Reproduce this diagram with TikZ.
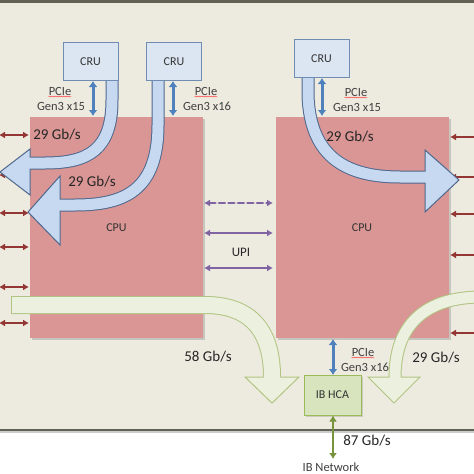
\documentclass[tikz,border=0pt]{standalone}
\usepackage{fontspec}
\setmainfont{Carlito}
\usepackage{tkz-euclide}
\usetikzlibrary{calc}
\usetikzlibrary{arrows.meta}
\usetikzlibrary{shadows}
\usetikzlibrary{decorations.pathmorphing}

\definecolor{panelbg}{RGB}{237,235,224}
\definecolor{panelline}{RGB}{98,98,84}
\definecolor{cpufill}{RGB}{217,150,148}
\definecolor{crufill}{RGB}{220,230,242}
\definecolor{cruline}{RGB}{112,140,178}
\definecolor{flowblue}{RGB}{198,217,241}
\definecolor{flowblueline}{RGB}{80,104,142}
\definecolor{pcieblue}{RGB}{79,129,189}
\definecolor{linkred}{RGB}{148,54,52}
\definecolor{upipurple}{RGB}{128,100,162}
\definecolor{flowgreen}{RGB}{235,241,222}
\definecolor{flowgreenline}{RGB}{178,196,130}
\definecolor{hcafill}{RGB}{215,228,189}
\definecolor{hcaline}{RGB}{155,187,89}
\definecolor{netgreen}{RGB}{119,147,60}

\tikzset{
    cpubox/.style={fill=cpufill, minimum width=173pt, minimum height=221pt, inner sep=0pt,
        drop shadow={shadow xshift=2pt, shadow yshift=-2pt, opacity=0.35},
        font=\fontsize{12}{14}\selectfont, text=black!80},
    crubox/.style={fill=crufill, draw=cruline, line width=1pt, minimum width=55pt, minimum height=38pt,
        font=\fontsize{12}{14}\selectfont, text=black!80},
    hcabox/.style={fill=hcafill, draw=hcaline, line width=1pt, minimum width=57pt, minimum height=40pt,
        drop shadow={shadow xshift=1.5pt, shadow yshift=-1.5pt, opacity=0.3},
        font=\fontsize{12}{14}\selectfont, text=black!80},
    ratelabel/.style={font=\fontsize{15}{18}\selectfont, text=black!85, inner sep=0pt},
    pcielabel/.style={font=\fontsize{12.5}{14}\selectfont, text=black!75, inner sep=0pt},
    squiggle/.style={red!80, line width=0.4pt, decorate, decoration={snake, amplitude=0.5pt, segment length=2pt}},
    redlink/.style={linkred, line width=2pt, >={Latex[length=6pt,width=7pt]}, <->},
    upilink/.style={upipurple, line width=2.5pt, >={Latex[length=6pt,width=7pt]}, <->},
    pcielink/.style={pcieblue, line width=3pt, >={Latex[length=6pt,width=9pt]}, <->},
    netlink/.style={netgreen, line width=2.5pt, >={Latex[length=6pt,width=8pt]}, <->},
    blueedge/.style={draw=flowblueline, line width=13pt},
    bluecore/.style={draw=flowblue, line width=11pt},
    bluehead/.style={fill=flowblue, draw=flowblueline, line width=1pt, line join=miter},
    greenedge/.style={draw=flowgreenline},
    greencore/.style={draw=flowgreen},
    greenhead/.style={fill=flowgreen, draw=flowgreenline, line width=1pt, line join=miter}
}

\begin{document}
\begin{tikzpicture}[x=1pt,y=-1pt]
                \useasboundingbox (0,0) rectangle (474,474);
                \clip (0,0) rectangle (474,474);
                \fill[white] (0,0) rectangle (474,474);
                \fill[panelbg] (0,2) rectangle (474,430);
                \fill[panelline] (0,0) rectangle (474,2.5);
                \fill[black!20] (0,430) rectangle (474,433);
                \fill[panelline] (0,428.5) rectangle (474,430.5);

                \node[cpubox] (cpuL) at (116.5,227.5) {CPU};
                \node[cpubox] (cpuR) at (362,227.5) {CPU};

                \tkzDefPoint(-1,135){La1} \tkzDefPoint(29,135){La2}
                \tkzDefPoint(-1,175){Lb1} \tkzDefPoint(29,175){Lb2}
                \tkzDefPoint(-1,213){Lc1} \tkzDefPoint(29,213){Lc2}
                \tkzDefPoint(-1,247){Ld1} \tkzDefPoint(29,247){Ld2}
                \tkzDefPoint(-1,287){Le1} \tkzDefPoint(29,287){Le2}
                \tkzDefPoint(-1,323){Lf1} \tkzDefPoint(29,323){Lf2}
                \tkzDefPoint(450,137){Ra1} \tkzDefPoint(482,137){Ra2}
                \tkzDefPoint(450,177){Rb1} \tkzDefPoint(482,177){Rb2}
                \tkzDefPoint(450,214){Rc1} \tkzDefPoint(482,214){Rc2}
                \tkzDefPoint(450,255){Rd1} \tkzDefPoint(482,255){Rd2}
                \tkzDefPoint(450,296){Re1} \tkzDefPoint(482,296){Re2}
                \tkzDefPoint(450,333){Rf1} \tkzDefPoint(482,333){Rf2}
                \tkzDrawSegments[redlink](La1,La2 Lb1,Lb2 Lc1,Lc2 Ld1,Ld2 Le1,Le2 Lf1,Lf2)
                \tkzDrawSegments[redlink](Ra1,Ra2 Rb1,Rb2 Rc1,Rc2 Rd1,Rd2 Re1,Re2 Rf1,Rf2)

                \tkzDefPoint(204,203){U1} \tkzDefPoint(273,203){U2}
                \tkzDefPoint(204,233){V1} \tkzDefPoint(273,233){V2}
                \tkzDefPoint(204,268){W1} \tkzDefPoint(273,268){W2}
                \tkzDrawSegment[upilink, dash pattern=on 6pt off 3.5pt](U1,U2)
                \tkzDrawSegment[upilink](V1,V2)
                \tkzDrawSegment[upilink](W1,W2)
                \node[font=\fontsize{13}{15}\selectfont, text=black!85] (upi) at (241,252) {UPI};

                \draw[greenedge, line width=18pt, shorten <=-1pt] (12,305) -- (205,305) .. controls (250,305) and (272,330) .. (272,377);
                \draw[greenhead] (245,377) -- (272,403) -- (299,377) -- cycle;
                \draw[greencore, line width=16pt] (12,305) -- (205,305) .. controls (250,305) and (272,330) .. (272,377) -- (272,386);

                \draw[greenedge, line width=13pt] (482,297) .. controls (425,297) and (395,325) .. (395,377);
                \draw[greenhead] (368,377) -- (394,403) -- (420,377) -- cycle;
                \draw[greencore, line width=11pt] (482,297) .. controls (425,297) and (395,325) .. (395,377) -- (395,386);

                \draw[blueedge] (112,78) -- (112,100) .. controls (112,150) and (88,163) .. (45,163) -- (30,163);
                \draw[bluehead] (30,149) -- (0,172) -- (30,195) -- cycle;
                \draw[bluecore] (112,78) -- (112,100) .. controls (112,150) and (88,163) .. (45,163) -- (22,163);

                \draw[blueedge] (158,78) -- (158,125) .. controls (158,190) and (125,205) .. (75,205) -- (60,205);
                \draw[bluehead] (60,176) -- (28,212) -- (60,245) -- cycle;
                \draw[bluecore] (158,78) -- (158,125) .. controls (158,190) and (125,205) .. (75,205) -- (52,205);

                \draw[blueedge] (308,76) -- (308,95) .. controls (310,160) and (350,177) .. (400,177) -- (425,177);
                \draw[bluehead] (425,150) -- (459,180) -- (425,212) -- cycle;
                \draw[bluecore] (308,76) -- (308,95) .. controls (310,160) and (350,177) .. (400,177) -- (433,177);

                \node[crubox] (cru1) at (90.5,61.5) {CRU};
                \node[crubox] (cru2) at (174,61.5) {CRU};
                \node[crubox] (cru3) at (321.5,58.5) {CRU};
                \node[hcabox] (hca) at (332.5,395) {IB HCA};

                \tkzDefPoint(93,81){Pa1} \tkzDefPoint(93,116){Pa2}
                \tkzDefPoint(173,81){Pb1} \tkzDefPoint(173,116){Pb2}
                \tkzDefPoint(322,78){Pc1} \tkzDefPoint(322,116){Pc2}
                \tkzDefPoint(333,339){Pd1} \tkzDefPoint(333,375){Pd2}
                \tkzDrawSegments[pcielink](Pa1,Pa2 Pb1,Pb2 Pc1,Pc2 Pd1,Pd2)
                \tkzDefPoint(333,415.5){N1} \tkzDefPoint(333,459){N2}
                \tkzDrawSegment[netlink](N1,N2)

                \node[pcielabel] (pcieA) at (60,91) {PCIe};
                \node[pcielabel] (genA) at (61,106) {Gen3 x15};
                \node[pcielabel] (pcieB) at (206,91) {PCIe};
                \node[pcielabel] (genB) at (207,106) {Gen3 x16};
                \node[pcielabel] (pcieC) at (356,92) {PCIe};
                \node[pcielabel] (genC) at (357,107) {Gen3 x15};
                \node[pcielabel] (pcieD) at (363,352) {PCIe};
                \node[pcielabel] (genD) at (365,367) {Gen3 x16};
                \draw[squiggle] ([yshift=-1.5pt]pcieA.base west) -- ([yshift=-1.5pt]pcieA.base east);
                \draw[squiggle] ([yshift=-1.5pt]pcieB.base west) -- ([yshift=-1.5pt]pcieB.base east);
                \draw[squiggle] ([yshift=-1.5pt]pcieC.base west) -- ([yshift=-1.5pt]pcieC.base east);
                \draw[squiggle] ([yshift=-1.5pt]pcieD.base west) -- ([yshift=-1.5pt]pcieD.base east);

                \node[ratelabel] (rateA) at (57,135) {29 Gb/s};
                \node[ratelabel] (rateB) at (92,182) {29 Gb/s};
                \node[ratelabel] (rateC) at (350,137) {29 Gb/s};
                \node[ratelabel] (rateD) at (208,357) {58 Gb/s};
                \node[ratelabel] (rateE) at (436,358) {29 Gb/s};
                \node[ratelabel] (rateF) at (367,441) {87 Gb/s};
                \node[pcielabel] (net) at (331,467) {IB Network};
\end{tikzpicture}
\end{document}
